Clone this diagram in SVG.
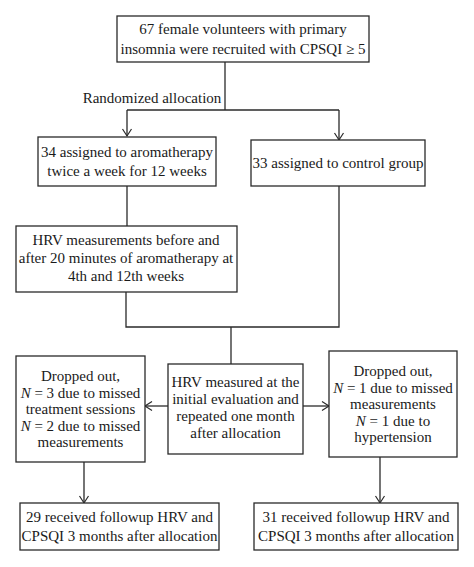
<svg xmlns="http://www.w3.org/2000/svg" width="474" height="567" viewBox="0 0 474 567">
<style>
.b{fill:#fff;stroke:#2a2a2a;stroke-width:1.3}
.t{font-family:"Liberation Serif","Times New Roman",serif;font-size:15px;fill:#1a1a1a;text-anchor:middle}
.c{fill:none;stroke:#2a2a2a;stroke-width:1.3}
</style>
<defs>
<marker id="a" markerWidth="12" markerHeight="12" refX="10" refY="6" orient="auto" markerUnits="userSpaceOnUse">
<path d="M3,1.5 L10,6 L3,10.5" fill="none" stroke="#2a2a2a" stroke-width="1.2"/>
</marker>
</defs>
<rect width="474" height="567" fill="#fff"/>
<g id="connectors">
<path class="c" d="M225,62 V110"/>
<path class="c" d="M127,110 H339"/>
<path class="c" d="M127,110 V136" marker-end="url(#a)"/>
<path class="c" d="M339,110 V140" marker-end="url(#a)"/>
<path class="c" d="M127,186 V226"/>
<path class="c" d="M126,292 V327 H339 V186"/>
<path class="c" d="M231,327 V364"/>
<path class="c" d="M168,406 H145" marker-end="url(#a)"/>
<path class="c" d="M303,406 H329" marker-end="url(#a)"/>
<path class="c" d="M84,462 V503" marker-end="url(#a)"/>
<path class="c" d="M380,457 V503" marker-end="url(#a)"/>
<text class="t" x="152" y="103">Randomized allocation</text>
</g>
<g id="n1"><rect class="b" x="117" y="16" width="252" height="46"/>
<text class="t" x="243" y="34">67 female volunteers with primary</text>
<text class="t" x="243" y="54">insomnia were recruited with CPSQI ≥ 5</text></g>
<g id="n2"><rect class="b" x="38" y="137" width="178" height="49"/>
<text class="t" x="127" y="157">34 assigned to aromatherapy</text>
<text class="t" x="127" y="176">twice a week for 12 weeks</text></g>
<g id="n3"><rect class="b" x="251" y="140" width="174" height="46"/>
<text class="t" x="338" y="168">33 assigned to control group</text></g>
<g id="n4"><rect class="b" x="16" y="226" width="221" height="66"/>
<text class="t" x="126" y="245">HRV measurements before and</text>
<text class="t" x="126" y="263">after 20 minutes of aromatherapy at</text>
<text class="t" x="126" y="281">4th and 12th weeks</text></g>
<g id="n5"><rect class="b" x="168" y="364" width="135" height="90"/>
<text class="t" x="235.5" y="387">HRV measured at the</text>
<text class="t" x="235.5" y="404">initial evaluation and</text>
<text class="t" x="235.5" y="421">repeated one month</text>
<text class="t" x="235.5" y="438">after allocation</text></g>
<g id="n6"><rect class="b" x="16" y="356" width="129" height="106"/>
<text class="t" x="80.5" y="381">Dropped out,</text>
<text class="t" x="80.5" y="397.5"><tspan font-style="italic">N</tspan> = 3 due to missed</text>
<text class="t" x="80.5" y="414">treatment sessions</text>
<text class="t" x="80.5" y="430.5"><tspan font-style="italic">N</tspan> = 2 due to missed</text>
<text class="t" x="80.5" y="447">measurements</text></g>
<g id="n7"><rect class="b" x="329" y="351" width="128" height="106"/>
<text class="t" x="393" y="376">Dropped out,</text>
<text class="t" x="393" y="392.5"><tspan font-style="italic">N</tspan> = 1 due to missed</text>
<text class="t" x="393" y="409">measurements</text>
<text class="t" x="393" y="425.5"><tspan font-style="italic">N</tspan> = 1 due to</text>
<text class="t" x="393" y="442">hypertension</text></g>
<g id="n8"><rect class="b" x="20" y="503" width="199" height="47"/>
<text class="t" x="119.5" y="522">29 received followup HRV and</text>
<text class="t" x="119.5" y="541">CPSQI 3 months after allocation</text></g>
<g id="n9"><rect class="b" x="254" y="503" width="204" height="47"/>
<text class="t" x="356" y="522">31 received followup HRV and</text>
<text class="t" x="356" y="541">CPSQI 3 months after allocation</text></g>
</svg>
